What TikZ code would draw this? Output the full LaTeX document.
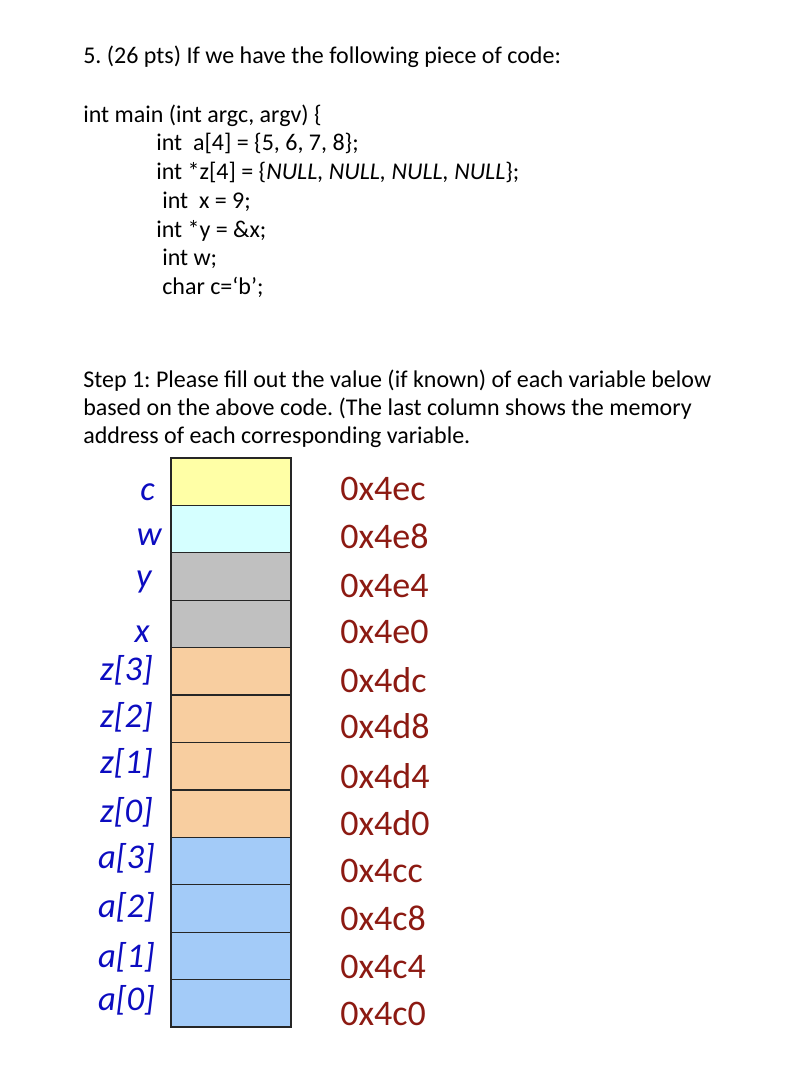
\documentclass[tikz,border=0pt]{standalone}
\usepackage{fontspec}
\setmainfont{Carlito}
\usetikzlibrary{positioning}
\frenchspacing
\definecolor{cellyellow}{RGB}{255,255,166}
\definecolor{cellcyan}{RGB}{213,255,255}
\definecolor{cellgray}{RGB}{192,192,192}
\definecolor{cellorange}{RGB}{248,206,160}
\definecolor{cellblue}{RGB}{163,203,248}
\definecolor{varblue}{RGB}{12,12,192}
\definecolor{addrred}{RGB}{140,26,18}
\tikzset{
  cell/.style={draw=black!85, line width=0.9pt, minimum width=90pt, minimum height=35.56pt, inner sep=0pt, outer sep=0pt},
  varname/.style={text=varblue, font=\fontsize{26}{30}\selectfont\itshape, anchor=base east, inner sep=0pt},
  addr/.style={text=addrred, font=\fontsize{27}{31}\selectfont, anchor=base west, inner sep=0pt},
  codeline/.style={font=\fontsize{18}{21}\selectfont, anchor=base west, inner sep=0pt}
}
\begin{document}
\begin{tikzpicture}[x=0.75pt, y=-0.75pt]
      \useasboundingbox (0,0) rectangle (804,1072);

      % question and code
      \node[codeline] (title) at (83,63) {5. (26 pts) If we have the following piece of code:};
      \node[codeline] (main) at (83,122) {int main (int argc, argv) \{};
      \node[codeline] (deca) at (156,150) {int\ \ a[4] = \{5, 6, 7, 8\};};
      \node[codeline] (decz) at (156,179) {int *z[4] = \{\textit{NULL, NULL, NULL, NULL}\};};
      \node[codeline] (decx) at (162,208) {int\ \ x = 9;};
      \node[codeline] (decy) at (156,237) {int *y = \&x;};
      \node[codeline] (decw) at (162,265) {int w;};
      \node[codeline] (decc) at (162,294) {char c=‘b’;};

      \node[codeline] (step1) at (83,387) {Step 1: Please fill out the value (if known) of each variable below};
      \node[codeline] (step2) at (83,415) {based on the above code. (The last column shows the memory};
      \node[codeline] (step3) at (83,443) {address of each corresponding variable.};

      % memory cells
      \node[cell, fill=cellyellow, anchor=north west] (cc) at (171,458) {};
      \node[cell, fill=cellcyan, below=0pt of cc] (cw) {};
      \node[cell, fill=cellgray, below=0pt of cw] (cy) {};
      \node[cell, fill=cellgray, below=0pt of cy] (cx) {};
      \node[cell, fill=cellorange, below=0pt of cx] (cz3) {};
      \node[cell, fill=cellorange, below=0pt of cz3] (cz2) {};
      \node[cell, fill=cellorange, below=0pt of cz2] (cz1) {};
      \node[cell, fill=cellorange, below=0pt of cz1] (cz0) {};
      \node[cell, fill=cellblue, below=0pt of cz0] (ca3) {};
      \node[cell, fill=cellblue, below=0pt of ca3] (ca2) {};
      \node[cell, fill=cellblue, below=0pt of ca2] (ca1) {};
      \node[cell, fill=cellblue, below=0pt of ca1] (ca0) {};

      % variable names
      \node[varname] (lc) at (155,500) {c};
      \node[varname] (lw) at (162,545) {w};
      \node[varname] (ly) at (152,587) {y};
      \node[varname] (lx) at (150,642) {x};
      \node[varname] (lz3) at (153,680) {z[3]};
      \node[varname] (lz2) at (153,727) {z[2]};
      \node[varname] (lz1) at (153,773) {z[1]};
      \node[varname] (lz0) at (153,822) {z[0]};
      \node[varname] (la3) at (155,868) {a[3]};
      \node[varname] (la2) at (155,917) {a[2]};
      \node[varname] (la1) at (155,967) {a[1]};
      \node[varname] (la0) at (155,1010) {a[0]};

      % addresses
      \node[addr] (adc) at (340,500) {0x4ec};
      \node[addr] (adw) at (340,548) {0x4e8};
      \node[addr] (ady) at (340,597) {0x4e4};
      \node[addr] (adx) at (340,643) {0x4e0};
      \node[addr] (adz3) at (340,692) {0x4dc};
      \node[addr] (adz2) at (340,738) {0x4d8};
      \node[addr] (adz1) at (340,788) {0x4d4};
      \node[addr] (adz0) at (340,835) {0x4d0};
      \node[addr] (ada3) at (340,882) {0x4cc};
      \node[addr] (ada2) at (340,930) {0x4c8};
      \node[addr] (ada1) at (340,978) {0x4c4};
      \node[addr] (ada0) at (340,1025) {0x4c0};

    \end{tikzpicture}
\end{document}
